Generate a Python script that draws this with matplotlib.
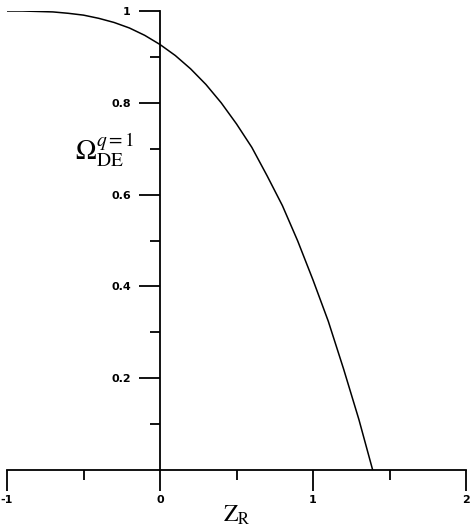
import numpy as np
import matplotlib.pyplot as plt
from matplotlib.ticker import FixedLocator

# values
z_r = [-1.0, -0.9, -0.8, -0.7, -0.6, -0.5, -0.4, -0.3, -0.2, -0.1, 0.0,
       0.1, 0.2, 0.3, 0.4, 0.5, 0.6, 0.7, 0.8, 0.9, 1.0, 1.1, 1.2, 1.3, 1.39]
omega_de = [1.000, 1.000, 0.999, 0.998, 0.995, 0.991, 0.984, 0.975, 0.963,
            0.947, 0.927, 0.903, 0.874, 0.840, 0.800, 0.754, 0.703, 0.641,
            0.576, 0.499, 0.414, 0.324, 0.220, 0.110, 0.0]

y_major = [0.2, 0.4, 0.6, 0.8, 1.0]
y_labels = ["0.2", "0.4", "0.6", "0.8", "1"]
y_minor = [0.1, 0.3, 0.5, 0.7, 0.9]
x_major = [-1, 0, 1, 2]
x_labels = ["-1", "0", "1", "2"]
x_minor = [-0.5, 0.5, 1.5]

W, H = 474, 526
plt.rcParams["mathtext.fontset"] = "stix"
fig = plt.figure(figsize=(W / 100, H / 100), dpi=100)
ax = fig.add_axes([7 / W, (H - 470) / H, (466 - 7) / W, (470 - 11) / H])

ax.plot(z_r, omega_de, color="black", lw=1.1)
ax.set_xlim(-1, 2)
ax.set_ylim(0, 1)

ax.spines["top"].set_visible(False)
ax.spines["right"].set_visible(False)
ax.spines["left"].set_position(("data", 0))
for s in ("left", "bottom"):
    ax.spines[s].set_linewidth(1.3)

ax.yaxis.set_major_locator(FixedLocator(y_major))
ax.set_yticklabels(y_labels)
ax.yaxis.set_minor_locator(FixedLocator(y_minor))
ax.xaxis.set_major_locator(FixedLocator(x_major))
ax.set_xticklabels(x_labels)
ax.xaxis.set_minor_locator(FixedLocator(x_minor))

ax.tick_params(which="major", direction="out", length=15, width=1.3,
               labelsize=8)
ax.tick_params(axis="y", which="major", pad=6)
ax.tick_params(axis="x", which="major", pad=3)
ax.tick_params(which="minor", direction="out", length=7, width=1.3)
for lab in ax.get_xticklabels() + ax.get_yticklabels():
    lab.set_fontweight("bold")

fig.text(105 / W, 1 - 150 / H, r"$\Omega_{\mathrm{DE}}^{q{=}1}$", fontsize=20,
         ha="center", va="center")
fig.text(237 / W, 1 - 515 / H, r"$\mathrm{Z_R}$", fontsize=17,
         ha="center", va="center")

fig.savefig("out.png", dpi=100)
